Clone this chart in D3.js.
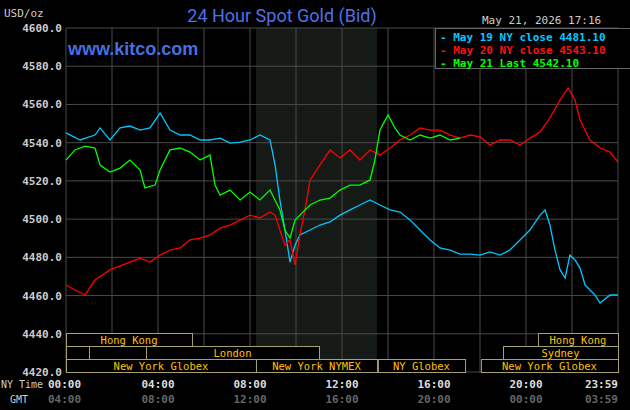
<!DOCTYPE html><html><head><meta charset="utf-8"><script src="https://d3js.org/d3.v7.min.js"></script>
<style>body{margin:0;background:#000}</style></head><body><svg id="c" width="630" height="410"></svg><script>
const yTicks=[4420,4440,4460,4480,4500,4520,4540,4560,4580,4600];
const nyLabels=["00:00","04:00","08:00","12:00","16:00","20:00","23:59"];
const gmtLabels=["04:00","08:00","12:00","16:00","20:00","00:00","03:59"];
const labelHours=[0,4,8,12,16,20,24];
const cyanH=[0,0.61,1.26,1.48,1.91,2.35,2.78,3.22,3.65,4.09,4.52,4.96,5.39,5.83,6.26,6.7,7.13,7.57,8.0,8.43,8.87,9.09,9.3,9.52,9.74,9.96,10.17,10.61,11.04,11.48,11.91,12.35,12.78,13.22,13.65,14.09,14.52,14.96,15.39,15.83,16.26,16.7,17.13,17.57,18.0,18.43,18.87,19.3,19.74,20.17,20.61,20.83,21.04,21.26,21.48,21.7,21.91,22.13,22.35,22.57,22.78,23.0,23.22,23.65,24];
const cyanP=[4545.1,4541.4,4544.0,4547.7,4541.4,4547.7,4548.7,4546.6,4547.7,4555.5,4546.6,4544.0,4544.0,4541.4,4541.4,4542.4,4539.8,4540.3,4541.4,4544.0,4541.4,4528.3,4510.0,4494.3,4477.5,4486.4,4491.7,4494.3,4496.9,4498.5,4502.1,4504.8,4507.4,4510.0,4507.4,4504.8,4503.7,4499.5,4494.3,4489.1,4484.9,4483.8,4481.7,4481.7,4481.2,4482.8,4481.2,4483.8,4489.1,4494.3,4502.1,4504.8,4496.9,4483.8,4473.4,4469.2,4481.2,4478.6,4474.4,4465.5,4462.9,4460.3,4456.1,4460.3,4460.3];
const redH=[0,0.39,0.83,1.26,1.91,2.78,3.22,3.65,4.09,4.52,4.96,5.39,5.83,6.26,6.7,7.13,7.57,8.0,8.43,8.87,9.09,9.3,9.52,9.74,9.96,10.17,10.39,10.61,11.04,11.48,11.91,12.35,12.78,13.22,13.65,14.09,14.52,14.96,15.39,15.83,16.26,16.7,17.13,17.57,18.0,18.43,18.87,19.3,19.74,20.17,20.61,21.04,21.48,21.83,22.13,22.35,22.78,23.22,23.65,24];
const redP=[4465.5,4462.9,4460.3,4468.1,4473.4,4477.5,4479.6,4477.5,4481.2,4483.8,4484.9,4489.1,4490.1,4491.7,4495.3,4496.9,4499.5,4502.1,4500.6,4503.7,4502.1,4494.3,4486.4,4489.1,4476.0,4491.7,4504.8,4520.5,4528.3,4536.2,4532.0,4536.2,4530.9,4536.2,4533.5,4537.2,4541.4,4544.0,4547.7,4546.6,4546.6,4544.0,4542.4,4544.0,4543.0,4538.8,4541.4,4541.4,4538.8,4542.4,4545.6,4552.9,4562.3,4568.6,4562.3,4551.9,4541.4,4537.2,4535.1,4529.9];
const greenH=[0,0.39,0.83,1.26,1.48,1.91,2.35,2.78,3.22,3.43,3.87,4.09,4.52,4.96,5.39,5.83,6.26,6.48,6.7,7.13,7.57,8.0,8.43,8.87,9.3,9.52,9.74,9.96,10.17,10.61,11.04,11.48,11.91,12.35,12.78,13.22,13.43,13.65,14.0,14.3,14.52,14.96,15.39,15.83,16.26,16.7,17.13];
const greenP=[4530.9,4536.2,4538.2,4537.2,4528.3,4524.6,4526.7,4530.9,4525.7,4516.3,4517.8,4525.7,4536.2,4537.2,4535.1,4530.9,4533.5,4517.8,4512.6,4515.2,4510.0,4514.2,4510.0,4515.2,4504.8,4494.3,4490.1,4499.5,4502.1,4507.4,4510.0,4511.0,4515.2,4517.8,4517.8,4520.5,4530.9,4546.6,4554.5,4547.7,4544.0,4541.4,4544.0,4542.4,4544.0,4541.4,4542.4];
const sessions=[
 {name:"Hong Kong",row:0,s:0,e:5.48},{name:"",row:1,s:0,e:1.0},{name:"",row:1,s:1.0,e:3.48},{name:"London",row:1,s:3.48,e:11.0},
 {name:"New York Globex",row:2,s:0,e:8.26},{name:"New York NYMEX",row:2,s:8.26,e:13.52},{name:"NY Globex",row:2,s:13.56,e:17.35},
 {name:"Hong Kong",row:0,s:20.52,e:24},{name:"Sydney",row:1,s:19.0,e:24},{name:"New York Globex",row:2,s:18.04,e:24}];
const legend=[{t:"May 19 NY close 4481.10",c:"#00c8ff"},{t:"May 20 NY close 4543.10",c:"#ff1010"},{t:"May 21 Last 4542.10",c:"#00ff00"}];

const svg=d3.select("#c");
const x=d3.scaleLinear().domain([0,24]).range([66,618]);
const y=d3.scaleLinear().domain([4420,4600]).range([372,28]);
const mono="'DejaVu Sans Mono', monospace";
svg.append("rect").attr("width",630).attr("height",410).attr("fill","#000");
svg.append("rect").attr("x",x(8.26)).attr("y",28).attr("width",x(13.52)-x(8.26)).attr("height",344).attr("fill","#161a16");
svg.append("g").selectAll("line").data(d3.range(0,25,2)).join("line")
 .attr("x1",d=>x(d)).attr("x2",d=>x(d)).attr("y1",28).attr("y2",372).attr("stroke","#4a4a4a");
svg.append("g").selectAll("line").data(yTicks).join("line")
 .attr("x1",66).attr("x2",618).attr("y1",d=>y(d)).attr("y2",d=>y(d)).attr("stroke","#4a4a4a");
svg.append("g").selectAll("text").data(yTicks).join("text").attr("x",62).attr("y",d=>y(d)+4)
 .attr("text-anchor","end").attr("fill","#ccc").attr("font-family",mono).attr("font-size",11).attr("font-weight","bold").text(d=>d.toFixed(1));
svg.append("text").attr("x",4).attr("y",17).attr("fill","#ccc").attr("font-family",mono).attr("font-size",11).text("USD/oz");
svg.append("text").attr("x",282).attr("y",22).attr("text-anchor","middle").attr("fill","#5070e8").attr("font-family","Roboto, sans-serif").attr("font-size",18).text("24 Hour Spot Gold (Bid)");
svg.append("text").attr("x",482).attr("y",24).attr("fill","#ccc").attr("font-family",mono).attr("font-size",11).text("May 21, 2026 17:16");
svg.append("text").attr("x",68).attr("y",55).attr("fill","#4a6ee0").attr("font-family","'Liberation Sans', Arial, sans-serif").attr("font-size",18).attr("font-weight","bold").text("www.kitco.com");
svg.append("rect").attr("x",435.5).attr("y",28.5).attr("width",200).attr("height",40).attr("fill","#000").attr("stroke","#666");
legend.forEach((l,i)=>svg.append("text").attr("x",440).attr("y",41+i*13).attr("fill",l.c).attr("font-family",mono).attr("font-size",11).attr("font-weight","bold").text("- "+l.t));
const line=d3.line().x(d=>x(d[0])).y(d=>y(d[1]));
[[cyanH,cyanP,"#00c8ff"],[redH,redP,"#ff0000"],[greenH,greenP,"#00ff00"]].forEach(([h,p,c])=>{
 svg.append("path").datum(h.map((v,i)=>[v,p[i]])).attr("d",line).attr("fill","none").attr("stroke",c).attr("stroke-width",1.3);});
const rowY=[333,346,359];
const sg=svg.append("g").selectAll("g").data(sessions).join("g");
sg.append("rect").attr("x",d=>x(d.s)+0.5).attr("y",d=>rowY[d.row]+0.5).attr("width",d=>x(d.e)-x(d.s)).attr("height",13)
 .attr("fill","#000").attr("stroke","#a8a070");
sg.append("text").attr("x",d=>(x(d.s)+x(d.e))/2).attr("y",d=>rowY[d.row]+10.5).attr("text-anchor","middle")
 .attr("fill","#ffc000").attr("font-family",mono).attr("font-size",10.5).text(d=>d.name);
svg.append("text").attr("x",1).attr("y",388).attr("fill","#ccc").attr("font-family",mono).attr("font-size",10).text("NY Time");
svg.append("text").attr("x",10).attr("y",403).attr("fill","#ccc").attr("font-family",mono).attr("font-size",10).text("GMT");
const anch=i=>i==0?"start":(i==6?"end":"middle");
svg.append("g").selectAll("text").data(labelHours).join("text").attr("x",(d,i)=>i==0?48:x(d)).attr("y",388).attr("text-anchor",(d,i)=>anch(i))
 .attr("fill","#ddd").attr("font-family",mono).attr("font-size",11).attr("font-weight","bold").text((d,i)=>nyLabels[i]);
svg.append("g").selectAll("text").data(labelHours).join("text").attr("x",(d,i)=>i==0?48:x(d)).attr("y",403).attr("text-anchor",(d,i)=>anch(i))
 .attr("fill","#666").attr("font-family",mono).attr("font-size",11).attr("font-weight","bold").text((d,i)=>gmtLabels[i]);
</script></body></html>
